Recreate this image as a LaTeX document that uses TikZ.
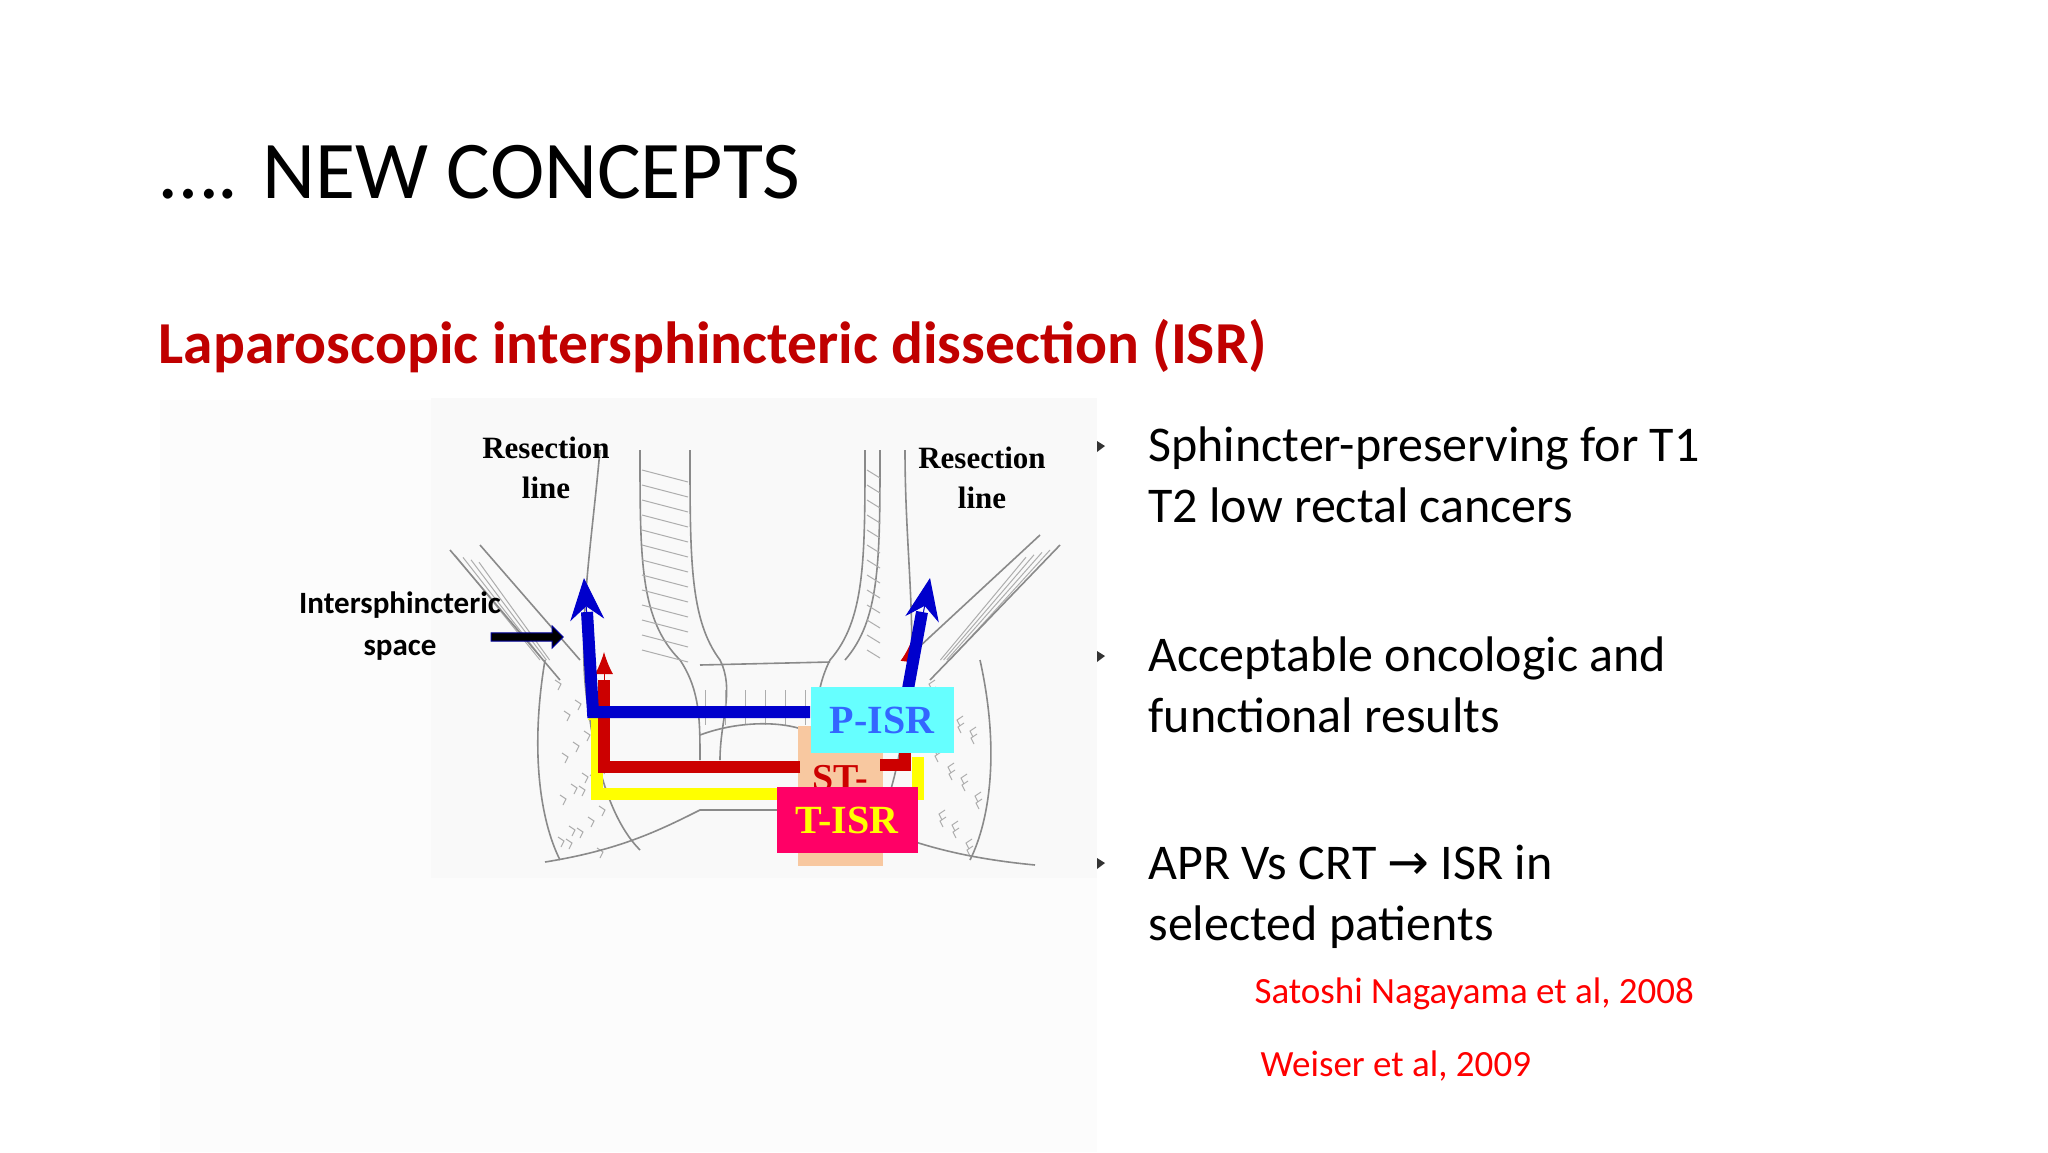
\documentclass[tikz,border=0pt]{standalone}
\usepackage{fontspec}
\setmainfont{Carlito}
\newfontfamily\tms{Liberation Serif}
\newfontfamily\dv{DejaVu Sans}
\usetikzlibrary{arrows.meta,shapes.arrows}
\definecolor{tred}{HTML}{C00000}
\definecolor{cred}{HTML}{FF0000}
\definecolor{pblue}{HTML}{0000CC}
\definecolor{pcyan}{HTML}{66FFFF}
\definecolor{ptext}{HTML}{3366FF}
\definecolor{peach}{HTML}{F8C8A0}
\definecolor{mag}{HTML}{FF0066}
\definecolor{yel}{HTML}{FFFF00}
\definecolor{rline}{HTML}{CC0000}
\definecolor{sk}{HTML}{8A8A8A}
\tikzset{
 bodyt/.style={anchor=base west,font=\fontsize{50}{60}\selectfont,align=left,text=black},
 cite/.style={anchor=base west,font=\fontsize{37}{40}\selectfont,text=cred},
 bul/.style={fill=black!80,draw=none},
 lab/.style={font=\tms\bfseries\fontsize{31}{40}\selectfont,align=center},
 box/.style={draw=none,minimum width=#1,inner sep=0pt},
 cut/.style={line width=12pt,line cap=butt,line join=miter},
 sk/.style={draw=sk,line width=1.6pt},
 skt/.style={draw=sk!70,line width=1pt},
}
\begin{document}
\begin{tikzpicture}[x=1pt,y=-1pt]
\useasboundingbox (0,0) rectangle (2048,1152);
\fill[white] (0,0) rectangle (2048,1152);
\fill[black!1] (160,400) rectangle (1097,1152);
\fill[black!2.5] (431,398) rectangle (1097,878);

\node[anchor=base west,font=\fontsize{82}{100}\selectfont] (title) at (157,198) {…. NEW CONCEPTS};
\node[anchor=base west,font=\bfseries\fontsize{59.5}{60}\selectfont,text=tred] (sub) at (155,363) {Laparoscopic intersphincteric dissection (ISR)};

% sketch: levators
\foreach \d in {0,8,16,24}{
 \draw[skt] (455+\d,555+\d*0.3) -- (540+\d*0.4,660);
 \draw[skt] (1050-\d,550+\d*0.3) -- (950-\d*0.4,660);}
\draw[sk] (450,550) -- (560,680); \draw[sk] (480,545) -- (580,660);
\draw[sk] (1060,545) -- (930,680); \draw[sk] (1040,535) -- (905,660);
% rectal walls
\draw[sk] (600,450) .. controls (590,560) and (575,640) .. (590,720) .. controls (600,790) and (620,830) .. (640,850);
\draw[sk] (640,450) .. controls (640,560) and (640,620) .. (680,660) .. controls (700,690) and (700,720) .. (700,760);
\draw[sk] (690,450) .. controls (690,560) and (690,620) .. (720,660) .. controls (735,690) and (720,720) .. (720,760);
\foreach \y in {470,485,...,650}{\draw[skt] (642,\y) -- (688,\y+12);}
\draw[sk] (905,450) .. controls (905,560) and (920,640) .. (905,720) .. controls (895,790) and (880,830) .. (860,850);
\draw[sk] (865,450) .. controls (865,560) and (865,620) .. (830,660) .. controls (815,690) and (815,720) .. (815,760);
\draw[sk] (880,450) .. controls (880,560) and (880,620) .. (845,660);
\foreach \y in {470,485,...,650}{\draw[skt] (867,\y) -- (880,\y+8);}
% canal
\draw[sk] (700,665) -- (830,662);
\foreach \x in {705,725,...,805}{\draw[skt] (\x,690) -- (\x,725);}
\draw[sk] (700,735) .. controls (740,720) and (790,720) .. (815,735);
% external sphincters
\draw[sk] (545,660) .. controls (530,750) and (540,820) .. (560,860);
\draw[sk] (980,660) .. controls (1000,750) and (990,820) .. (970,860);
\foreach \i in {0,1,...,22}{
 \draw[skt] ({555+mod(\i*37,50)},{680+mod(\i*53,170)}) ++(0,0) -- ++(6,4) -- ++(-3,6);
 \draw[skt] ({935+mod(\i*41,50)},{680+mod(\i*47,170)}) -- ++(-6,4) -- ++(3,6);}
\draw[sk] (545,862) .. controls (620,850) and (660,830) .. (700,810) -- (840,810) .. controls (880,830) and (930,855) .. (1035,865);

% labels
\node[lab] (rl1) at (546,468) {Resection\\line};
\node[lab] (rl2) at (982,478) {Resection\\line};
\node[font=\bfseries\fontsize{31}{42}\selectfont,align=center] (isp) at (400,626) {Intersphincteric\\space};
\node[single arrow,fill=black,draw=blue!60!black,line width=1pt,minimum height=72pt,minimum width=22pt,single arrow head extend=4pt,inner sep=2pt] (barr) at (525,637) {};

% boxes
\node[box=85pt,minimum height=140pt,fill=peach] (st) at (840,796) {};
\node[anchor=north,font=\tms\bfseries\fontsize{38}{40}\selectfont,text=rline,inner sep=0pt] (stt) at (840,765) {ST-};

% yellow (T-ISR)
\draw[cut,draw=yel] (780,794) -- (597,794) -- (597,712);
\draw[-{Latex[length=22pt,width=18pt]},line width=1pt,draw=yel,fill=yel] (597,722) -- (597,698);
\draw[cut,draw=yel] (918,757) -- (918,800);
% red (ST-ISR)
\draw[cut,draw=rline] (800,767) -- (604,767) -- (604,680);
\draw[-{Latex[length=22pt,width=18pt]},line width=1pt,draw=rline,fill=rline] (604,690) -- (604,652);
\draw[cut,draw=rline] (880,765) -- (905,765) -- (905,690);
\draw[-{Latex[length=22pt,width=18pt]},line width=1pt,draw=rline,fill=rline] (905,700) -- (912,640);
% blue (P-ISR)
\draw[cut,draw=pblue] (810,712) -- (593,712) -- (587,612);
\draw[-{Stealth[length=42pt,width=34pt]},line width=1pt,draw=pblue,fill=pblue] (588,630) -- (584,578);
\draw[cut,draw=pblue] (906,700) -- (922,612);
\draw[-{Stealth[length=42pt,width=34pt]},line width=1pt,draw=pblue,fill=pblue] (920,630) -- (930,578);

\node[box=143pt,minimum height=66pt,fill=pcyan,font=\tms\bfseries\fontsize{40}{40}\selectfont,text=ptext] (pisr) at (882,720) {P-ISR};
\node[box=141pt,minimum height=66pt,fill=mag,font=\tms\bfseries\fontsize{40}{40}\selectfont,text=yel] (tisr) at (847,820) {T-ISR};

% bullets
\fill[bul] (1097,441) -- (1105,446) -- (1097,452) -- cycle;
\fill[bul] (1097,651) -- (1105,656) -- (1097,662) -- cycle;
\fill[bul] (1097,858) -- (1105,863) -- (1097,869) -- cycle;
\node[bodyt] (b1) at (1145,461) {Sphincter-preserving for T1};
\node[bodyt] (b1b) at (1145,522) {T2 low rectal cancers};
\node[bodyt] (b2) at (1145,671) {Acceptable oncologic and};
\node[bodyt] (b2b) at (1145,732) {functional results};
\node[bodyt] (b3) at (1145,879) {APR Vs CRT {\dv →} ISR in};
\node[bodyt] (b3b) at (1145,940) {selected patients};
\node[cite] (c1) at (1251,1003) {Satoshi Nagayama et al, 2008};
\node[cite] (c2) at (1257,1076) {Weiser et al, 2009};
\end{tikzpicture}
\end{document}
